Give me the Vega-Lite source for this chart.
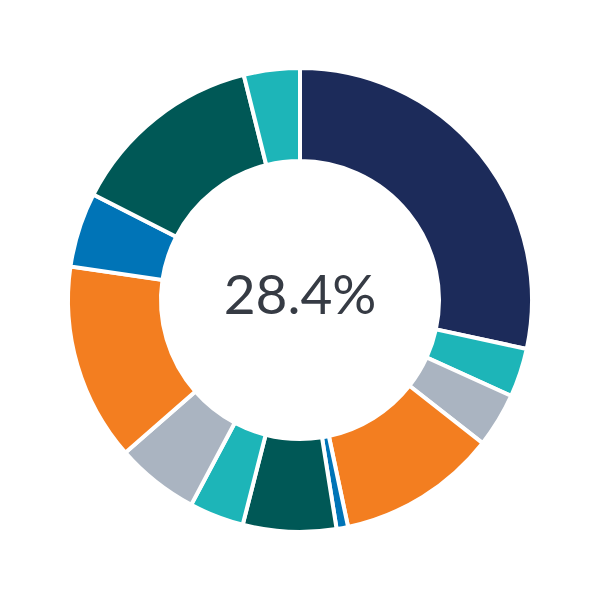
{
  "$schema": "https://vega.github.io/schema/vega-lite/v6.json",
  "width": 600,
  "height": 600,
  "autosize": {"type": "fit", "contains": "padding"},
  "padding": 0,
  "background": "white",
  "view": {"stroke": null},
  "layer": [
    {
      "data": {
        "values": [
          {"idx": 1, "group": "navy", "value": 28.4},
          {"idx": 2, "group": "teal", "value": 3.4},
          {"idx": 3, "group": "gray", "value": 3.8},
          {"idx": 4, "group": "orange", "value": 11.1},
          {"idx": 5, "group": "blue", "value": 0.8},
          {"idx": 6, "group": "darkteal", "value": 6.5},
          {"idx": 7, "group": "teal", "value": 3.8},
          {"idx": 8, "group": "gray", "value": 5.8},
          {"idx": 9, "group": "orange", "value": 13.75},
          {"idx": 10, "group": "blue", "value": 5.2},
          {"idx": 11, "group": "darkteal", "value": 13.6},
          {"idx": 12, "group": "teal", "value": 3.9}
        ]
      },
      "mark": {"type": "arc", "outerRadius": 232, "innerRadius": 139, "stroke": "white", "strokeWidth": 4},
      "encoding": {
        "theta": {"field": "value", "type": "quantitative", "stack": true},
        "order": {"field": "idx", "type": "quantitative"},
        "color": {
          "field": "group",
          "type": "nominal",
          "legend": null,
          "scale": {
            "domain": ["navy", "teal", "gray", "orange", "blue", "darkteal"],
            "range": ["#1c2b5a", "#1db5b8", "#aab4c1", "#f37e20", "#0074b7", "#005856"]
          }
        }
      }
    },
    {
      "data": {"values": [{"label": "28.4%"}]},
      "mark": {"type": "text", "font": "Lato", "fontWeight": 400, "fontSize": 55, "color": "#363b44", "align": "center", "baseline": "middle", "dy": -3},
      "encoding": {"text": {"field": "label"}}
    }
  ]
}
